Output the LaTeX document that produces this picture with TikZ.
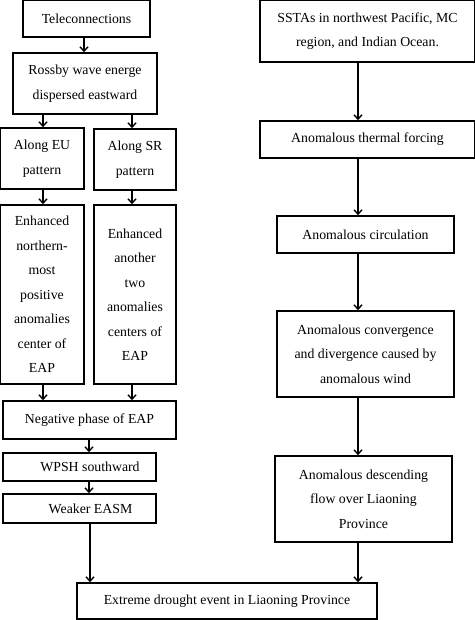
\documentclass[tikz,border=0pt]{standalone}
\usepackage{fontspec}
\setmainfont{Liberation Serif}
\usetikzlibrary{arrows.meta}
\begin{document}
\begin{tikzpicture}[x=1pt,y=-1pt,
  box/.style={draw,line width=1.4pt,inner sep=0pt,align=center,
    font=\fontsize{13.8}{24.5}\selectfont},
  arr/.style={line width=1.4pt,-{Straight Barb[length=4.5pt,width=8pt,line width=1.4pt]}}]
\useasboundingbox (0,0) rectangle (474,620);
% left column
\node[box,minimum width=127pt,minimum height=37pt] (tele) at (86.5,18.5) {Teleconnections};
\node[box,minimum width=144pt,minimum height=61pt] (rossby) at (85,83.5) {Rossby wave energe\\dispersed eastward};
\node[box,minimum width=84pt,minimum height=61pt] (eu) at (42,158.5) {Along EU\\pattern};
\node[box,minimum width=82pt,minimum height=61pt] (sr) at (135,159.5) {Along SR\\pattern};
\node[box,minimum width=84pt,minimum height=179pt] (enhl) at (42,294.5) {Enhanced\\northern-\\most\\positive\\anomalies\\center of\\EAP};
\node[box,minimum width=82pt,minimum height=179pt] (enhr) at (135,294.5) {Enhanced\\another\\two\\anomalies\\centers of\\EAP};
\node[box,minimum width=173pt,minimum height=38pt] (neg) at (89.5,420) {Negative phase of EAP};
\node[box,minimum width=153pt,minimum height=28pt] (wpsh) at (79.5,467) {\hspace*{21pt}WPSH southward};
\node[box,minimum width=153pt,minimum height=29pt] (easm) at (79.5,508.5) {\hspace*{22pt}Weaker EASM};
\node[box,minimum width=300pt,minimum height=36pt] (drought) at (227,601) {Extreme drought event in Liaoning Province};
% right column
\node[box,minimum width=215pt,minimum height=62pt] (ssta) at (367.5,31) {SSTAs in northwest Pacific, MC\\region, and Indian Ocean.};
\node[box,minimum width=215pt,minimum height=37pt] (thermal) at (367.5,139.5) {Anomalous thermal forcing};
\node[box,minimum width=177pt,minimum height=37pt] (circ) at (365.5,234.5) {Anomalous circulation};
\node[box,minimum width=177pt,minimum height=86pt] (conv) at (365.5,354) {Anomalous convergence\\and divergence caused by\\anomalous wind};
\node[box,minimum width=177pt,minimum height=86pt] (desc) at (363.5,499) {Anomalous descending\\flow over Liaoning\\Province};
% arrows left
\draw[arr] (tele.south -| 84,0) -- (rossby.north -| 84,0);
\draw[arr] (rossby.south -| 43,0) -- (eu.north -| 43,0);
\draw[arr] (rossby.south -| 132,0) -- (sr.north -| 132,0);
\draw[arr] (eu.south -| 43,0) -- (enhl.north -| 43,0);
\draw[arr] (sr.south -| 132,0) -- (enhr.north -| 132,0);
\draw[arr] (enhl.south -| 43,0) -- (neg.north -| 43,0);
\draw[arr] (enhr.south -| 132,0) -- (neg.north -| 132,0);
\draw[arr] (neg.south -| 89,0) -- (wpsh.north -| 89,0);
\draw[arr] (wpsh.south -| 89,0) -- (easm.north -| 89,0);
\draw[arr] (easm.south -| 90,0) -- (drought.north -| 90,0);
% arrows right
\draw[arr] (ssta.south -| 358,0) -- (thermal.north -| 358,0);
\draw[arr] (thermal.south -| 358,0) -- (circ.north -| 358,0);
\draw[arr] (circ.south -| 358,0) -- (conv.north -| 358,0);
\draw[arr] (conv.south -| 358,0) -- (desc.north -| 358,0);
\draw[arr] (desc.south -| 358,0) -- (drought.north -| 358,0);
\end{tikzpicture}
\end{document}
